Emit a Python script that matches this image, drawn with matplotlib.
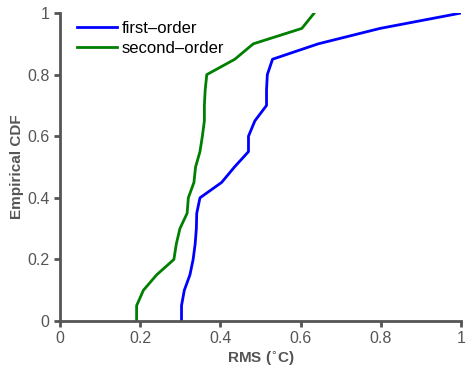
import numpy as np
import matplotlib
matplotlib.use("Agg")
import matplotlib.pyplot as plt

plt.rcParams['font.family'] = ['Liberation Sans', 'DejaVu Sans']

cdf = np.arange(0, 1.0001, 0.05)

first_order = [0.303, 0.303, 0.31, 0.324, 0.332, 0.337, 0.34, 0.341, 0.349, 0.403,
               0.435, 0.47, 0.47, 0.486, 0.515, 0.515, 0.517, 0.53, 0.644, 0.798, 1.0]
second_order = [0.191, 0.191, 0.208, 0.241, 0.284, 0.29, 0.299, 0.317, 0.32, 0.334,
                0.338, 0.349, 0.355, 0.36, 0.36, 0.362, 0.366, 0.436, 0.482, 0.603, 0.634]

gray = '#555555'

fig = plt.figure(figsize=(4.74, 3.72), dpi=100)
ax = fig.add_axes([0.1266, 0.137, 0.846, 0.828])

ax.plot(first_order, cdf, color='#0000ff', lw=2, label='first\u2013order')
ax.plot(second_order, cdf, color='#007f00', lw=2, label='second\u2013order')

ax.set_xlim(0, 1)
ax.set_ylim(0, 1)
ax.set_xticks([0, 0.2, 0.4, 0.6, 0.8, 1])
ax.set_xticklabels(['0', '0.2', '0.4', '0.6', '0.8', '1'])
ax.set_yticks([0, 0.2, 0.4, 0.6, 0.8, 1])
ax.set_yticklabels(['0', '0.2', '0.4', '0.6', '0.8', '1'])

for s in ['top', 'right']:
    ax.spines[s].set_visible(False)
for s in ['left', 'bottom']:
    ax.spines[s].set_color(gray)
    ax.spines[s].set_linewidth(2)
ax.tick_params(colors=gray, labelsize=11.5, width=2, length=4, direction='out')

ax.set_xlabel('RMS ($^{\\circ}$C)', color=gray, fontsize=11, fontweight='bold', labelpad=2)
ax.set_ylabel('Empirical CDF', color=gray, fontsize=11, fontweight='bold', labelpad=2)

leg = ax.legend(loc='upper left', frameon=False, fontsize=12, handlelength=2.4,
                handletextpad=0.3, borderaxespad=0, labelspacing=0.3,
                bbox_to_anchor=(0.025, 0.995))

fig.savefig('out.png', dpi=100)
